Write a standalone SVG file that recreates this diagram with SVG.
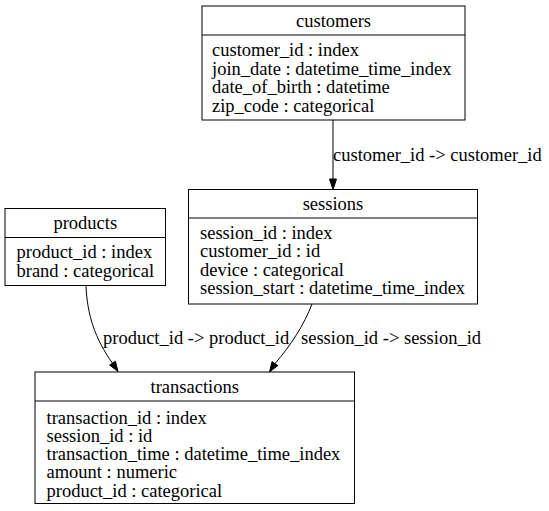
<svg xmlns="http://www.w3.org/2000/svg" width="549" height="511" viewBox="0 0 549 511">
<style>
  text { font-family: "Liberation Serif", "Times New Roman", serif; font-size: 18.5px; fill: #000; }
  .t { text-anchor: middle; }
  .box { fill: none; stroke: #000; stroke-width: 1; }
  .edge { fill: none; stroke: #000; stroke-width: 1; }
  .head { fill: #000; stroke: #000; stroke-width: 1; }
</style>
<rect x="0" y="0" width="549" height="511" fill="#fff"/>

<g id="customers">
  <rect class="box" x="202" y="6" width="263" height="114"/>
  <line class="box" x1="202" y1="35" x2="465" y2="35"/>
  <text class="t" x="333.5" y="27">customers</text>
  <text x="212" y="56">customer_id : index</text>
  <text x="212" y="74.5">join_date : datetime_time_index</text>
  <text x="212" y="93">date_of_birth : datetime</text>
  <text x="212" y="111.5">zip_code : categorical</text>
</g>

<g id="sessions">
  <rect class="box" x="188.5" y="189.5" width="289" height="114.5"/>
  <line class="box" x1="188.5" y1="218" x2="477.5" y2="218"/>
  <text class="t" x="333" y="209.5">sessions</text>
  <text x="200" y="238.5">session_id : index</text>
  <text x="200" y="257">customer_id : id</text>
  <text x="200" y="275.5">device : categorical</text>
  <text x="200" y="294">session_start : datetime_time_index</text>
</g>

<g id="products">
  <rect class="box" x="5" y="208.5" width="160.5" height="77"/>
  <line class="box" x1="5" y1="237.5" x2="165.5" y2="237.5"/>
  <text class="t" x="85.25" y="228.5">products</text>
  <text x="16.5" y="258">product_id : index</text>
  <text x="16.5" y="276.5">brand : categorical</text>
</g>

<g id="transactions">
  <rect class="box" x="35" y="372" width="319.5" height="131.5"/>
  <line class="box" x1="35" y1="401" x2="354.5" y2="401"/>
  <text class="t" x="194.75" y="392.5">transactions</text>
  <text x="46.5" y="423.5">transaction_id : index</text>
  <text x="46.5" y="441.8">session_id : id</text>
  <text x="46.5" y="460.1">transaction_time : datetime_time_index</text>
  <text x="46.5" y="478.4">amount : numeric</text>
  <text x="46.5" y="496.7">product_id : categorical</text>
</g>

<g id="connectors">
  <path class="edge" d="M333,120 L333,179"/>
  <polygon class="head" points="329.5,179 336.5,179 333,189.5"/>
  <text x="333" y="160.5">customer_id -&gt; customer_id</text>

  <path class="edge" d="M86,285.5 C87,314 95,339 112.5,363.2"/>
  <polygon class="head" points="115.4,361.3 109.6,365.1 118,371.5"/>
  <text x="103" y="344">product_id -&gt; product_id</text>

  <path class="edge" d="M312,304 C304,325 291,345 275,363.6"/>
  <polygon class="head" points="277.9,365.5 272,361.7 269.5,372"/>
  <text x="301" y="344">session_id -&gt; session_id</text>
</g>
</svg>
